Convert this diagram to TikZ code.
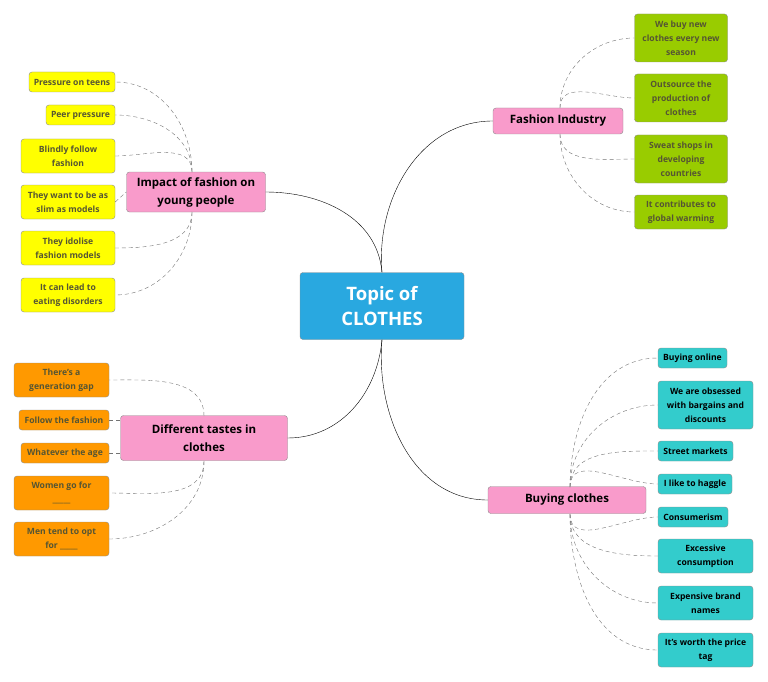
\documentclass[tikz,border=0pt]{standalone}
\usepackage{fontspec}
\setmainfont{Open Sans}
\definecolor{topicblue}{HTML}{29A8E0}
\definecolor{mainpink}{HTML}{F99BCB}
\definecolor{leafgreen}{HTML}{99CC00}
\definecolor{leafyellow}{HTML}{FFFF00}
\definecolor{leaforange}{HTML}{FF9900}
\definecolor{leafcyan}{HTML}{33CCCC}
\definecolor{leaftext}{HTML}{555533}
\tikzset{
  base/.style={draw=black!45, rounded corners=3pt, align=center, inner sep=2pt, font=\bfseries},
  topic/.style={base, fill=topicblue, text=white, minimum width=164pt, minimum height=67pt, font=\fontsize{18.5}{25}\selectfont\bfseries},
  branch/.style={base, fill=mainpink, text=black, font=\fontsize{11.5}{18}\selectfont\bfseries},
  leaf/.style={base, text=leaftext, font=\fontsize{8.6}{14}\selectfont\bfseries, minimum height=20pt},
  green/.style={leaf, fill=leafgreen, minimum width=93pt},
  yellow/.style={leaf, fill=leafyellow},
  orange/.style={leaf, fill=leaforange},
  cyan/.style={leaf, fill=leafcyan, text=black},
  link/.style={draw=black!55, dash pattern=on 4pt off 3pt, thin},
  trunk/.style={draw=black, thin}
}
\begin{document}
\begin{tikzpicture}[x=1pt, y=-1pt]
  \useasboundingbox (0,0) rectangle (768,682);
  % Centre and branches
  \node[topic] (topic) at (382,306) {Topic of\\CLOTHES};
  \node[branch, minimum width=130pt, minimum height=26pt] (industry) at (558,121) {Fashion Industry};
  \node[branch, minimum width=139pt, minimum height=40pt] (impact) at (196,192) {Impact of fashion on\\young people};
  \node[branch, minimum width=167pt, minimum height=45pt] (tastes) at (204,438) {Different tastes in\\clothes};
  \node[branch, minimum width=158pt, minimum height=27pt] (buying) at (567,500) {Buying clothes};

  \draw[trunk] (topic.north) to[out=95, in=180] (industry.west);
  \draw[trunk] (topic.north) to[out=95, in=0] (impact.east);
  \draw[trunk] (topic.south) to[out=-95, in=0] (tastes.east);
  \draw[trunk] (topic.south) to[out=-95, in=180] (buying.west);

  % Fashion industry
  \node[green, minimum height=48pt] (season) at (681,38) {We buy new\\clothes every new\\season};
  \node[green, minimum height=48pt] (outsource) at (681,98) {Outsource the\\production of\\clothes};
  \node[green, minimum height=48pt] (sweat) at (681,159) {Sweat shops in\\developing\\countries};
  \node[green, minimum height=34pt] (warming) at (681,212) {It contributes to\\global warming};
  \coordinate (ihub) at (560,108);
  \coordinate (ihubs) at (560,134);
  \draw[link] (ihub) to[out=90, in=180] (season.west);
  \draw[link] (ihub) to[out=90, in=180] (outsource.west);
  \draw[link] (ihubs) to[out=-90, in=180] (sweat.west);
  \draw[link] (ihubs) to[out=-90, in=180] (warming.west);

  % Impact of fashion
  \node[yellow, minimum width=86pt] (teens) at (72,82) {Pressure on teens};
  \node[yellow, minimum width=69pt] (peer) at (80.5,115) {Peer pressure};
  \node[yellow, minimum width=94pt, minimum height=34pt] (blindly) at (68,156) {Blindly follow\\fashion};
  \node[yellow, minimum width=94pt, minimum height=34pt] (slim) at (68,202) {They want to be as\\slim as models};
  \node[yellow, minimum width=94pt, minimum height=34pt] (idolise) at (68,248) {They idolise\\fashion models};
  \node[yellow, minimum width=94pt, minimum height=34pt] (eating) at (68,295) {It can lead to\\eating disorders};
  \coordinate (phub) at (192,172);
  \coordinate (phubs) at (192,212);
  \draw[link] (phub) to[out=90, in=0] (teens.east);
  \draw[link] (phub) to[out=90, in=0] (peer.east);
  \draw[link] (phub) to[out=90, in=0] (blindly.east);
  \draw[link] (slim.east) -- (impact.west);
  \draw[link] (phubs) to[out=-90, in=0] (idolise.east);
  \draw[link] (phubs) to[out=-90, in=0] (eating.east);

  % Different tastes
  \node[orange, minimum width=95pt, minimum height=34pt] (gap) at (61.5,380) {There's a\\generation gap};
  \node[orange, minimum width=90pt] (follow) at (64,420) {Follow the fashion};
  \node[orange, minimum width=88pt] (whatever) at (65,453) {Whatever the age};
  \node[orange, minimum width=95pt, minimum height=34pt] (women) at (61.5,493) {Women go for\\\_\_\_\_\_};
  \node[orange, minimum width=95pt, minimum height=34pt] (men) at (61.5,539) {Men tend to opt\\for \_\_\_\_\_};
  \coordinate (thub) at (204,416);
  \coordinate (thubs) at (204,461);
  \draw[link] (thub) to[out=90, in=0] (gap.east);
  \draw[link] (follow.east) -- (follow.east -| tastes.west);
  \draw[link] (whatever.east) -- (whatever.east -| tastes.west);
  \draw[link] (thubs) to[out=-90, in=0] (women.east);
  \draw[link] (thubs) to[out=-90, in=0] (men.east);

  % Buying clothes
  \node[cyan, minimum width=69pt] (online) at (692.5,358) {Buying online};
  \node[cyan, minimum width=95pt, minimum height=48pt] (bargains) at (705.5,405) {We are obsessed\\with bargains and\\discounts};
  \node[cyan, minimum width=75pt] (street) at (695.5,451) {Street markets};
  \node[cyan, minimum width=74pt] (haggle) at (695,484) {I like to haggle};
  \node[cyan, minimum width=70pt] (consumer) at (693,517) {Consumerism};
  \node[cyan, minimum width=95pt, minimum height=34pt] (excess) at (705.5,556) {Excessive\\consumption};
  \node[cyan, minimum width=95pt, minimum height=34pt] (brand) at (705.5,603) {Expensive brand\\names};
  \node[cyan, minimum width=95pt, minimum height=34pt] (worth) at (705.5,650) {It's worth the price\\tag};
  \coordinate (bhub) at (570,487);
  \coordinate (bhubs) at (570,514);
  \draw[link] (bhub) to[out=90, in=180] (online.west);
  \draw[link] (bhub) to[out=90, in=180] (bargains.west);
  \draw[link] (bhub) to[out=90, in=180] (street.west);
  \draw[link] (bhub) to[out=90, in=180] (haggle.west);
  \draw[link] (bhubs) to[out=-90, in=180] (consumer.west);
  \draw[link] (bhubs) to[out=-90, in=180] (excess.west);
  \draw[link] (bhubs) to[out=-90, in=180] (brand.west);
  \draw[link] (bhubs) to[out=-90, in=180] (worth.west);
\end{tikzpicture}
\end{document}
